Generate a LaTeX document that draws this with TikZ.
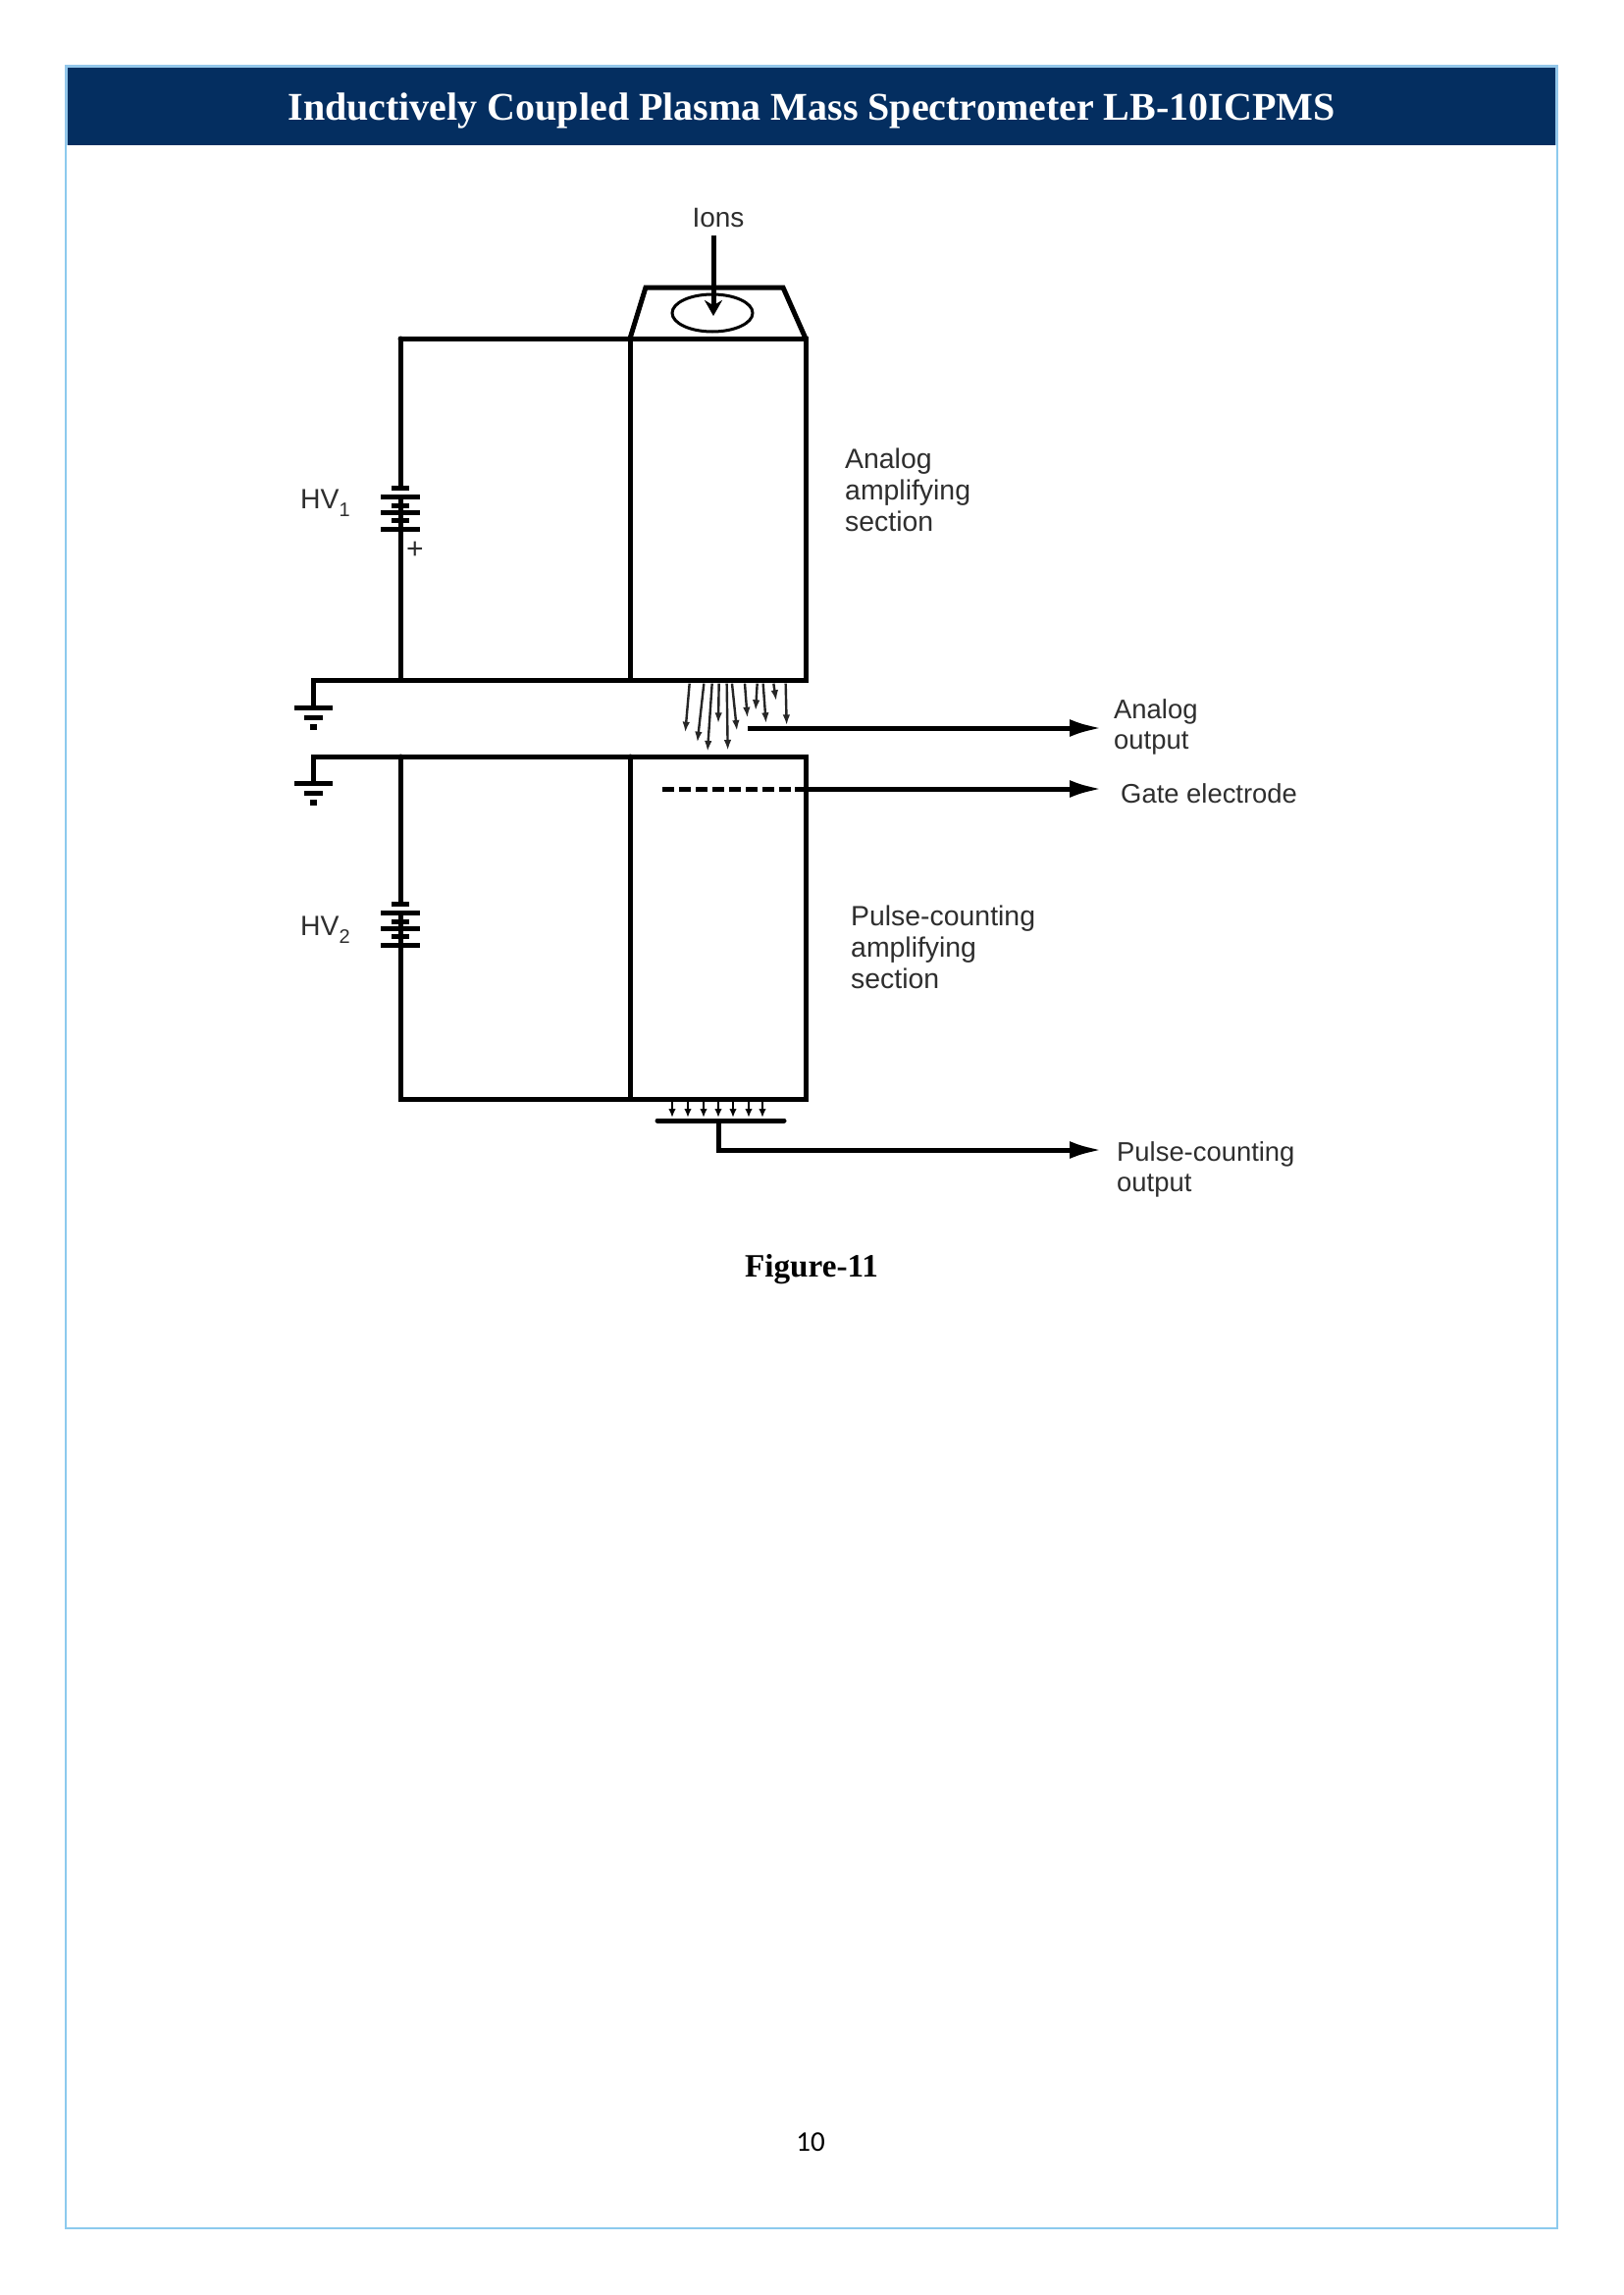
\documentclass[tikz,border=0pt]{standalone}
\usepackage{fontspec}
\setmainfont{Liberation Sans}
\newfontfamily\titlefont{Liberation Serif}
\newfontfamily\pagefont{Carlito}
\usetikzlibrary{arrows.meta,shapes.geometric}
\definecolor{navy}{HTML}{042E60}
\definecolor{frameblue}{HTML}{8CCAEE}
\definecolor{bandblue}{HTML}{93C7EA}
\definecolor{labelgrey}{HTML}{2E2E2E}
\tikzset{
  wire/.style={line width=5pt,line cap=round,line join=miter,black},
  bigarrow/.style={line width=5pt,black,-{Latex[length=33pt,width=18pt]}},
  ionarrow/.style={line width=2.4pt,black!85,-{Latex[length=11pt,width=7.5pt]}},
  inarrow/.style={line width=5pt,black,-{Stealth[length=16pt,width=18pt]}},
  lab/.style={font=\fontsize{28.4}{32}\selectfont,text=labelgrey,inner sep=0pt,align=left,anchor=west},
  outlab/.style={font=\fontsize{27.4}{31.5}\selectfont,text=labelgrey,inner sep=0pt,align=left,anchor=west},
  cell/.style={line width=5pt,black},
}
\newcommand{\battery}[2]{%
  \fill[white] (#1-5,#2+1) rectangle (#1+5,#2+8);
  \draw[cell] (#1-20,#2+9) -- (#1+20,#2+9);
  \draw[cell] (#1-9,#2) -- (#1+9,#2);
  \draw[cell] (#1-9,#2+18) -- (#1+9,#2+18);
  \draw[cell] (#1-20,#2+25) -- (#1+20,#2+25);
  \draw[cell] (#1-9,#2+33) -- (#1+9,#2+33);
  \draw[cell] (#1-20,#2+42) -- (#1+20,#2+42);
}
\newcommand{\groundsym}[2]{%
  \draw[cell] (#1-19,#2) -- (#1+20,#2);
  \draw[cell] (#1-9,#2+10) -- (#1+10,#2+10);
  \draw[line width=5.5pt] (#1-3,#2+20) -- (#1+4,#2+20);
}
\begin{document}
\begin{tikzpicture}[x=1pt,y=-1pt]
\useasboundingbox (0,0) rectangle (1654,2339);
\fill[white] (0,0) rectangle (1654,2339);
% page frame and header
\draw[frameblue,line width=2pt] (67,67) rectangle (1587,2271);
\fill[navy] (69,69) rectangle (1585,148);
\draw[bandblue,line width=2.5pt] (67.5,148) -- (67.5,67.5) -- (1586.5,67.5) -- (1586.5,148);
\node[inner sep=0pt,anchor=base,text=white,font=\titlefont\bfseries\fontsize{40}{44}\selectfont] (title) at (827,123) {Inductively Coupled Plasma Mass Spectrometer LB-10ICPMS};
% coordinates
\coordinate (tl) at (642,345);
\coordinate (tr) at (821,345);
\coordinate (ttl) at (658,293);
\coordinate (ttr) at (798,293);
\coordinate (ubl) at (642,693);
\coordinate (ubr) at (821,693);
\coordinate (lbtl) at (642,771);
\coordinate (lbtr) at (821,771);
\coordinate (lbbl) at (642,1120);
\coordinate (lbbr) at (821,1120);
\coordinate (wireA) at (408,345);
\coordinate (wireAb) at (408,693);
\coordinate (wireB) at (408,771);
\coordinate (wireBb) at (408,1120);
\coordinate (gndA) at (319,693);
\coordinate (gndAb) at (319,721);
\coordinate (gndB) at (319,771);
\coordinate (gndBb) at (319,798);
% upper section
\draw[wire] (tl) -- (ttl) -- (ttr) -- (tr);
\draw[wire] (wireA) -- (tr) -- (ubr) -- (gndA |- ubr) -- (gndAb);
\draw[wire] (tl) -- (ubl);
\draw[wire] (wireA) -- (wireAb);
% aperture and ion input
\node[draw,ellipse,line width=3pt,minimum width=82pt,minimum height=38pt,inner sep=0pt] (aperture) at (726,319) {};
\node[font=\fontsize{28}{32}\selectfont,text=labelgrey,inner sep=0pt] (ions) at (732,222) {Ions};
\coordinate (ionstart) at (727,240);
\coordinate (ionend) at (727,322);
\draw[inarrow] (ionstart) -- (ionend);
% lower section
\draw[wire] (gndBb) -- (gndB) -- (lbtr) -- (lbbr) -- (wireBb) -- (wireB);
\draw[wire] (lbtl) -- (lbbl);
% batteries, ground symbols
\battery{408}{497}
\battery{408}{921}
\groundsym{319}{721}
\groundsym{319}{798}
% ion shower
\foreach \xa/\ya/\xb/\yb in {248/50/235/200,292/50/272/230,317/50/303/258,338/50/336/172,362/50/365/255,378/50/393/195,417/50/425/155,455/50/450/133,473/50/482/172,505/50/513/103,542/50/545/178}{
  \draw[ionarrow] ({620+\xa/3},{680+\ya/3}) -- ({620+\xb/3},{680+\yb/3});
}
% outputs
\coordinate (aoS) at (762,742);
\coordinate (aoE) at (1123,742);
\draw[bigarrow] (aoS) -- (aoE);
\coordinate (gS) at (675,804);
\coordinate (gM) at (810,804);
\coordinate (gE) at (1123,804);
\draw[line width=5pt,dash pattern=on 12pt off 5pt] (gS) -- (gM);
\draw[bigarrow] (gM) -- (gE);
% detector plate
\coordinate (pL) at (670,1142);
\coordinate (pR) at (799,1142);
\coordinate (pM) at (732,1142);
\coordinate (pC) at (732,1172);
\coordinate (pE) at (1123,1172);
\draw[wire] (pL) -- (pR);
\draw[bigarrow] (pM) -- (pC) -- (pE);
\foreach \xp in {685,701,717,732,747,763,777}{
  \draw[line width=2pt,-{Latex[length=9pt,width=7.5pt]}] (\xp,1122) -- (\xp,1139);
}
% labels
\node[lab] (hv1) at (306,513) {HV\raisebox{-0.28em}{\fontsize{20}{20}\selectfont 1}};
\node[lab] (hv2) at (306,948) {HV\raisebox{-0.28em}{\fontsize{20}{20}\selectfont 2}};
\node[lab,font=\fontsize{30}{32}\selectfont] (plus) at (414,561) {+};
\node[lab] (s1) at (861,499.5) {Analog\\amplifying\\section};
\node[lab] (s2) at (867,965) {Pulse-counting\\amplifying\\section};
\node[outlab] (ao) at (1135,741) {Analog\\output};
\node[outlab] (ge) at (1142,808.5) {Gate electrode};
\node[outlab] (po) at (1138,1192) {Pulse-counting\\output};
% caption and page number
\node[inner sep=0pt,font=\titlefont\bfseries\fontsize{33.2}{38}\selectfont] (fig) at (827,1294) {Figure-11};
\node[inner sep=0pt,font=\pagefont\fontsize{29}{34}\selectfont] (pg) at (826,2183) {10};
\end{tikzpicture}
\end{document}
